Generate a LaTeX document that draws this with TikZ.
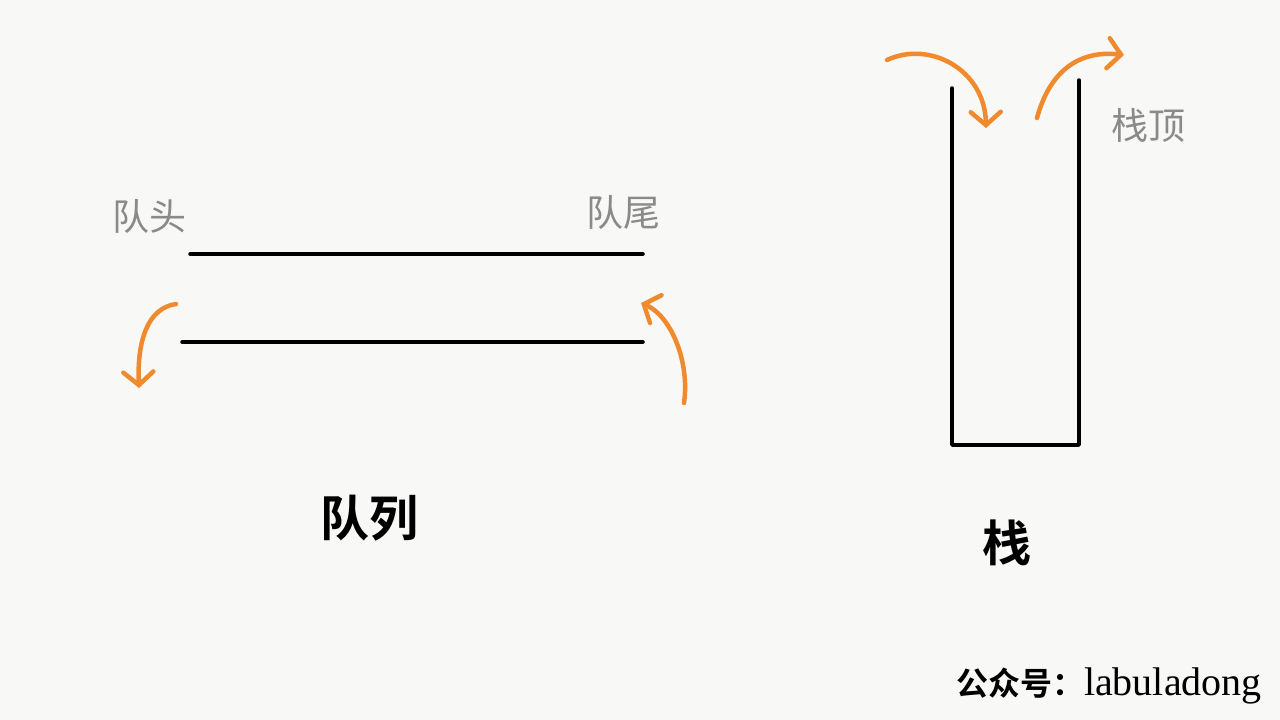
\documentclass[tikz,border=0pt]{standalone}
\usepackage{fontspec}
\setmainfont{Liberation Serif}
\newfontfamily\cjk{Noto Sans CJK SC}
\newfontfamily\cjkb{Noto Sans CJK SC Bold}
\usetikzlibrary{arrows.meta}
\definecolor{bg}{HTML}{F8F8F6}
\definecolor{orng}{HTML}{F08A2C}
\definecolor{lbl}{HTML}{8A8A8A}
\tikzset{
  wall/.style={line width=3.5pt, line cap=round, black},
  flow/.style={line width=4.5pt, orng, line cap=round, -{Straight Barb[length=13pt,width=30pt,line cap=round]}},
  glabel/.style={font=\cjk\fontsize{37}{40}\selectfont, text=lbl, inner sep=0pt},
  title/.style={font=\cjkb\fontsize{49}{52}\selectfont, inner sep=0pt}
}
\begin{document}
\begin{tikzpicture}[x=1pt,y=-1pt]
\fill[bg] (0,0) rectangle (1280,720);
\useasboundingbox (0,0) rectangle (1280,720);
% queue
\coordinate (qt1) at (190,254); \coordinate (qt2) at (643,254);
\coordinate (qb1) at (182,342); \coordinate (qb2) at (643,342);
\draw[wall] (qt1) -- (qt2);
\draw[wall] (qb1) -- (qb2);
\node[glabel] (head) at (149,216) {队头};
\node[glabel] (tail) at (623,212) {队尾};
\coordinate (la) at (176,304); \coordinate (lb) at (139,388);
\draw[flow] (la) .. controls (148,308) and (137,340) .. (lb);
\coordinate (ra) at (684,403); \coordinate (rb) at (641,303);
\draw[flow] (ra) .. controls (690,360) and (670,315) .. (rb);
\node[title] (queue) at (369,518) {队列};
% stack
\coordinate (s1) at (952,88); \coordinate (s2) at (952,445);
\coordinate (s3) at (1079,445); \coordinate (s4) at (1079,80);
\draw[wall, line join=round] (s1) -- (s2) -- (s3) -- (s4);
\coordinate (pa) at (887,60); \coordinate (pb) at (986,128);
\draw[flow] (pa) .. controls (930,40) and (985,70) .. (pb);
\coordinate (oa) at (1037,118); \coordinate (ob) at (1124,55);
\draw[flow] (oa) .. controls (1050,70) and (1080,50) .. (ob);
\node[glabel] (top) at (1148,125) {栈顶};
\node[title] (stack) at (1007,543) {栈};
% credit
\node[inner sep=0pt, anchor=east] (credit) at (1262,686) {{\cjkb\fontsize{32}{34}\selectfont 公众号：}{\fontsize{40}{42}\selectfont labuladong}};
\end{tikzpicture}
\end{document}
